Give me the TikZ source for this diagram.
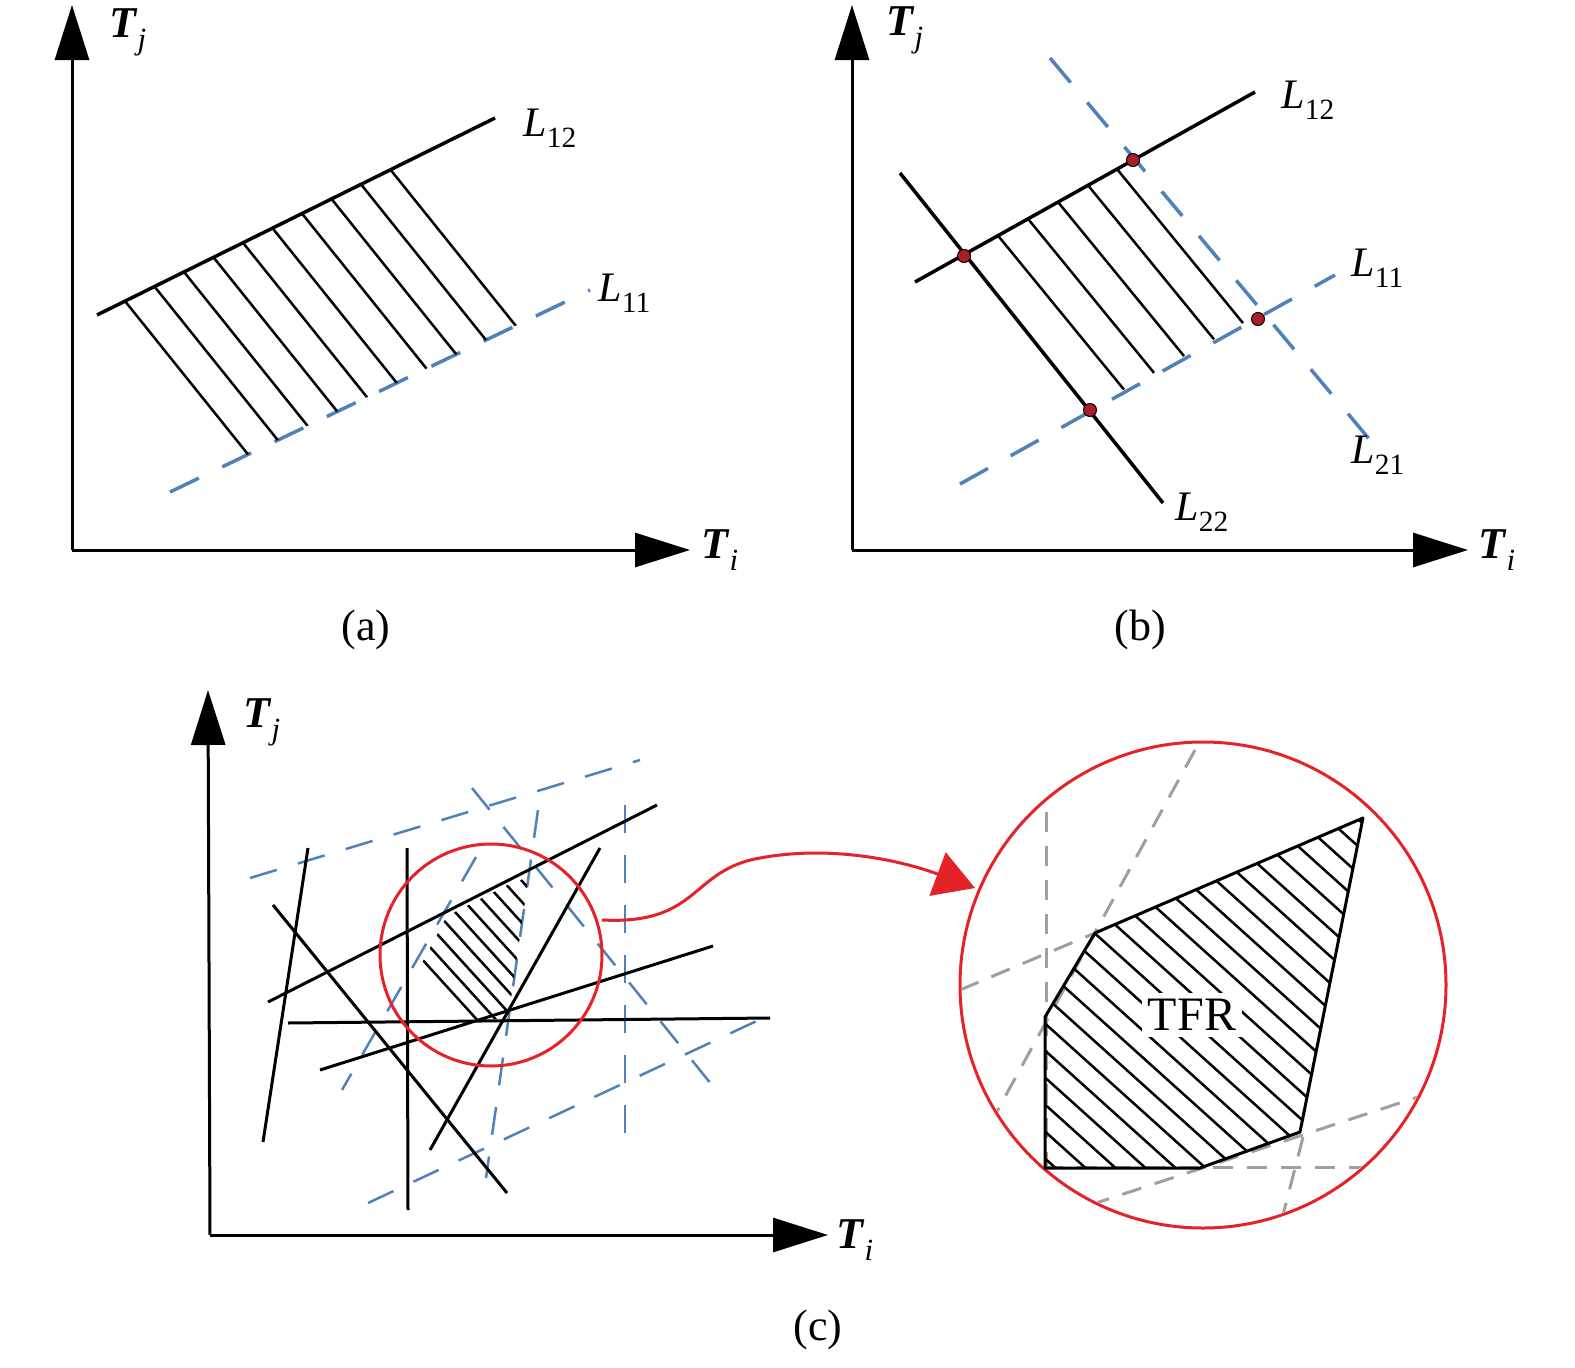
\documentclass[tikz,border=0pt]{standalone}
\usepackage{fontspec}
\setmainfont{Liberation Serif}
\usetikzlibrary{arrows.meta}
\definecolor{dblue}{RGB}{80,130,185}
\definecolor{cred}{RGB}{228,35,40}
\definecolor{dotred}{RGB}{170,30,40}
\begin{document}
\begin{tikzpicture}[x=1pt,y=-1pt,
  axis/.style={line width=3pt,-{Triangle[length=55pt,width=34pt]}},
  blk/.style={line width=3.5pt,black},
  hat/.style={line width=2.5pt,black},
  bdash/.style={line width=3.5pt,dblue,dash pattern=on 32pt off 26pt},
  cdash/.style={line width=2.5pt,dblue,dash pattern=on 28pt off 22pt},
  gdash/.style={line width=3pt,gray!75,dash pattern=on 20pt off 14pt},
  lab/.style={font=\fontsize{42}{46}\selectfont,anchor=west},
  captxt/.style={font=\fontsize{44}{48}\selectfont},
  ax/.style={font=\fontsize{44}{48}\selectfont},
  dot/.style={circle,fill=dotred,draw=black,line width=1pt,inner sep=0pt,minimum size=13pt}]
\useasboundingbox (0,0) rectangle (1575,1368);
% ---------- (a)
\coordinate (aO) at (72,550);
\coordinate (aY) at (72,5);
\coordinate (aX) at (690,550);
\draw[axis] (aO) -- (aY);
\draw[axis] (aO) -- (aX);
\node[ax] (aTj) at (128,32) {\textbf{\textit{T}}\textsubscript{\textit{j}}};
\node[ax] (aTi) at (720,550) {\textbf{\textit{T}}\textsubscript{\textit{i}}};
\coordinate (a12s) at (97,315); \coordinate (a12e) at (495,118);
\coordinate (a11s) at (170,492); \coordinate (a11e) at (590,290);
\draw[blk] (a12s) -- (a12e);
\draw[bdash] (a11s) -- (a11e);
\begin{scope}
\clip (50,338) -- (700,16.5) -- (700,237) -- (50,549.7) -- cycle;
\foreach \k in {0,...,9}{
  \pgfmathsetmacro\xu{125+29.5*\k}
  \pgfmathsetmacro\yu{315-0.495*(\xu-97)}
  \draw[hat] (\xu,\yu) -- ++(236,294);
}
\end{scope}
\node[lab] (aL12) at (520,128) {\textit{L}\textsubscript{12}};
\node[lab] (aL11) at (595,293) {\textit{L}\textsubscript{11}};
\node[captxt] (acap) at (366,630) {(a)};
% ---------- (b)
\coordinate (bO) at (852,550);
\coordinate (bY) at (852,5);
\coordinate (bX) at (1468,550);
\draw[axis] (bO) -- (bY);
\draw[axis] (bO) -- (bX);
\node[ax] (bTj) at (905,30) {\textbf{\textit{T}}\textsubscript{\textit{j}}};
\node[ax] (bTi) at (1497,550) {\textbf{\textit{T}}\textsubscript{\textit{i}}};
\coordinate (b12s) at (915,282); \coordinate (b12e) at (1255,92);
\coordinate (b11s) at (960,484); \coordinate (b11e) at (1335,275);
\coordinate (b22s) at (900,173); \coordinate (b22e) at (1163,503);
\coordinate (b21s) at (1050,58); \coordinate (b21e) at (1370,440);
\draw[bdash] (b11s) -- (b11e);
\draw[bdash] (b21s) -- (b21e);
\draw[blk] (b12s) -- (b12e);
\draw[blk] (b22s) -- (b22e);
\begin{scope}
\clip (900,290.4) -- (1300,66.8) -- (1300,294.6) -- (900,517.4) -- cycle;
\foreach \xu in {998,1028,1058,1088,1117}{
  \pgfmathsetmacro\yu{282-0.559*(\xu-915)}
  \draw[hat] (\xu,\yu) -- ++(126,154);
}
\end{scope}
\node[dot] (bd1) at (964,256) {};
\node[dot] (bd2) at (1133,160) {};
\node[dot] (bd3) at (1258,319) {};
\node[dot] (bd4) at (1090,410) {};
\node[lab] (bL12) at (1278,100) {\textit{L}\textsubscript{12}};
\node[lab] (bL11) at (1348,268) {\textit{L}\textsubscript{11}};
\node[lab] (bL21) at (1348,455) {\textit{L}\textsubscript{21}};
\node[lab] (bL22) at (1172,512) {\textit{L}\textsubscript{22}};
\node[captxt] (bcap) at (1140,630) {(b)};
% ---------- (c)
\coordinate (cO) at (210,1235);
\coordinate (cY) at (208,690);
\coordinate (cX) at (828,1235);
\draw[axis] (cO) -- (cY);
\draw[axis] (cO) -- (cX);
\node[ax] (cTj) at (262,722) {\textbf{\textit{T}}\textsubscript{\textit{j}}};
\node[ax] (cTi) at (855,1240) {\textbf{\textit{T}}\textsubscript{\textit{i}}};
\draw[cdash] (250,878) -- (640,760);
\draw[cdash] (472,788) -- (720,1095);
\draw[cdash] (538,810) -- (486,1178);
\draw[cdash] (476,857) -- (342,1090);
\draw[cdash] (625,805) -- (625,1152);
\draw[cdash] (368,1203) -- (763,1018);
\draw[hat,line width=3pt] (308,848) -- (263,1142);
\draw[hat,line width=3pt] (273,905) -- (507,1193);
\draw[hat,line width=3pt] (407,848) -- (408,1210);
\draw[hat,line width=3pt] (268,1002) -- (657,805);
\draw[hat,line width=3pt] (288,1023) -- (770,1018);
\draw[hat,line width=3pt] (320,1070) -- (713,946);
\draw[hat,line width=3pt] (430,1150) -- (600,848);
\begin{scope}
\clip (414,1020) -- (414,978) -- (447,916) -- (529,874) -- (508,1019) -- cycle;
\foreach \k in {0,...,10}{
  \draw[hat] (350+19*\k,880) -- ++(150,165);
}
\end{scope}
\node[circle,draw=cred,line width=3pt,minimum width=222pt,inner sep=0pt] (zoomA) at (491,955) {};
\coordinate (cs) at (602,920);
\coordinate (ce) at (975,888);
\draw[cred,line width=3pt,-{Triangle[length=40pt,width=46pt]}] (cs) .. controls (700,925) and (690,870) .. (760,858) .. controls (830,845) and (900,860) .. (ce);
\node[circle,draw=cred,line width=3pt,minimum width=486pt,inner sep=0pt] (zoomB) at (1203,985) {};
\begin{scope}
\clip (1203,985) circle (241);
\draw[gdash] (1046,812) -- (1046,1170);
\draw[gdash] (960,990) -- (1095,933);
\draw[gdash] (1195,750) -- (995,1115);
\draw[gdash] (1043,1167) -- (1390,1167);
\draw[gdash] (1090,1205) -- (1430,1093);
\draw[gdash] (1303,1137) -- (1283,1215);
\end{scope}
\coordinate (p1) at (1045,1168);
\coordinate (p2) at (1045,1017);
\coordinate (p3) at (1095,933);
\coordinate (p4) at (1363,818);
\coordinate (p5) at (1300,1132);
\coordinate (p6) at (1200,1168);
\begin{scope}
\clip (p1) -- (p2) -- (p3) -- (p4) -- (p5) -- (p6) -- cycle;
\foreach \k in {0,...,38}{
  \draw[hat] (290+30*\k,560) -- ++(800,720);
}
\end{scope}
\draw[hat,line width=3pt,line join=round] (p1) -- (p2) -- (p3) -- (p4) -- (p5) -- (p6) -- cycle;
\node[fill=white,font=\fontsize{48}{52}\selectfont,inner sep=6pt] (tfr) at (1192,1015) {TFR};
\node[captxt] (ccap) at (818,1330) {(c)};
\end{tikzpicture}
\end{document}
